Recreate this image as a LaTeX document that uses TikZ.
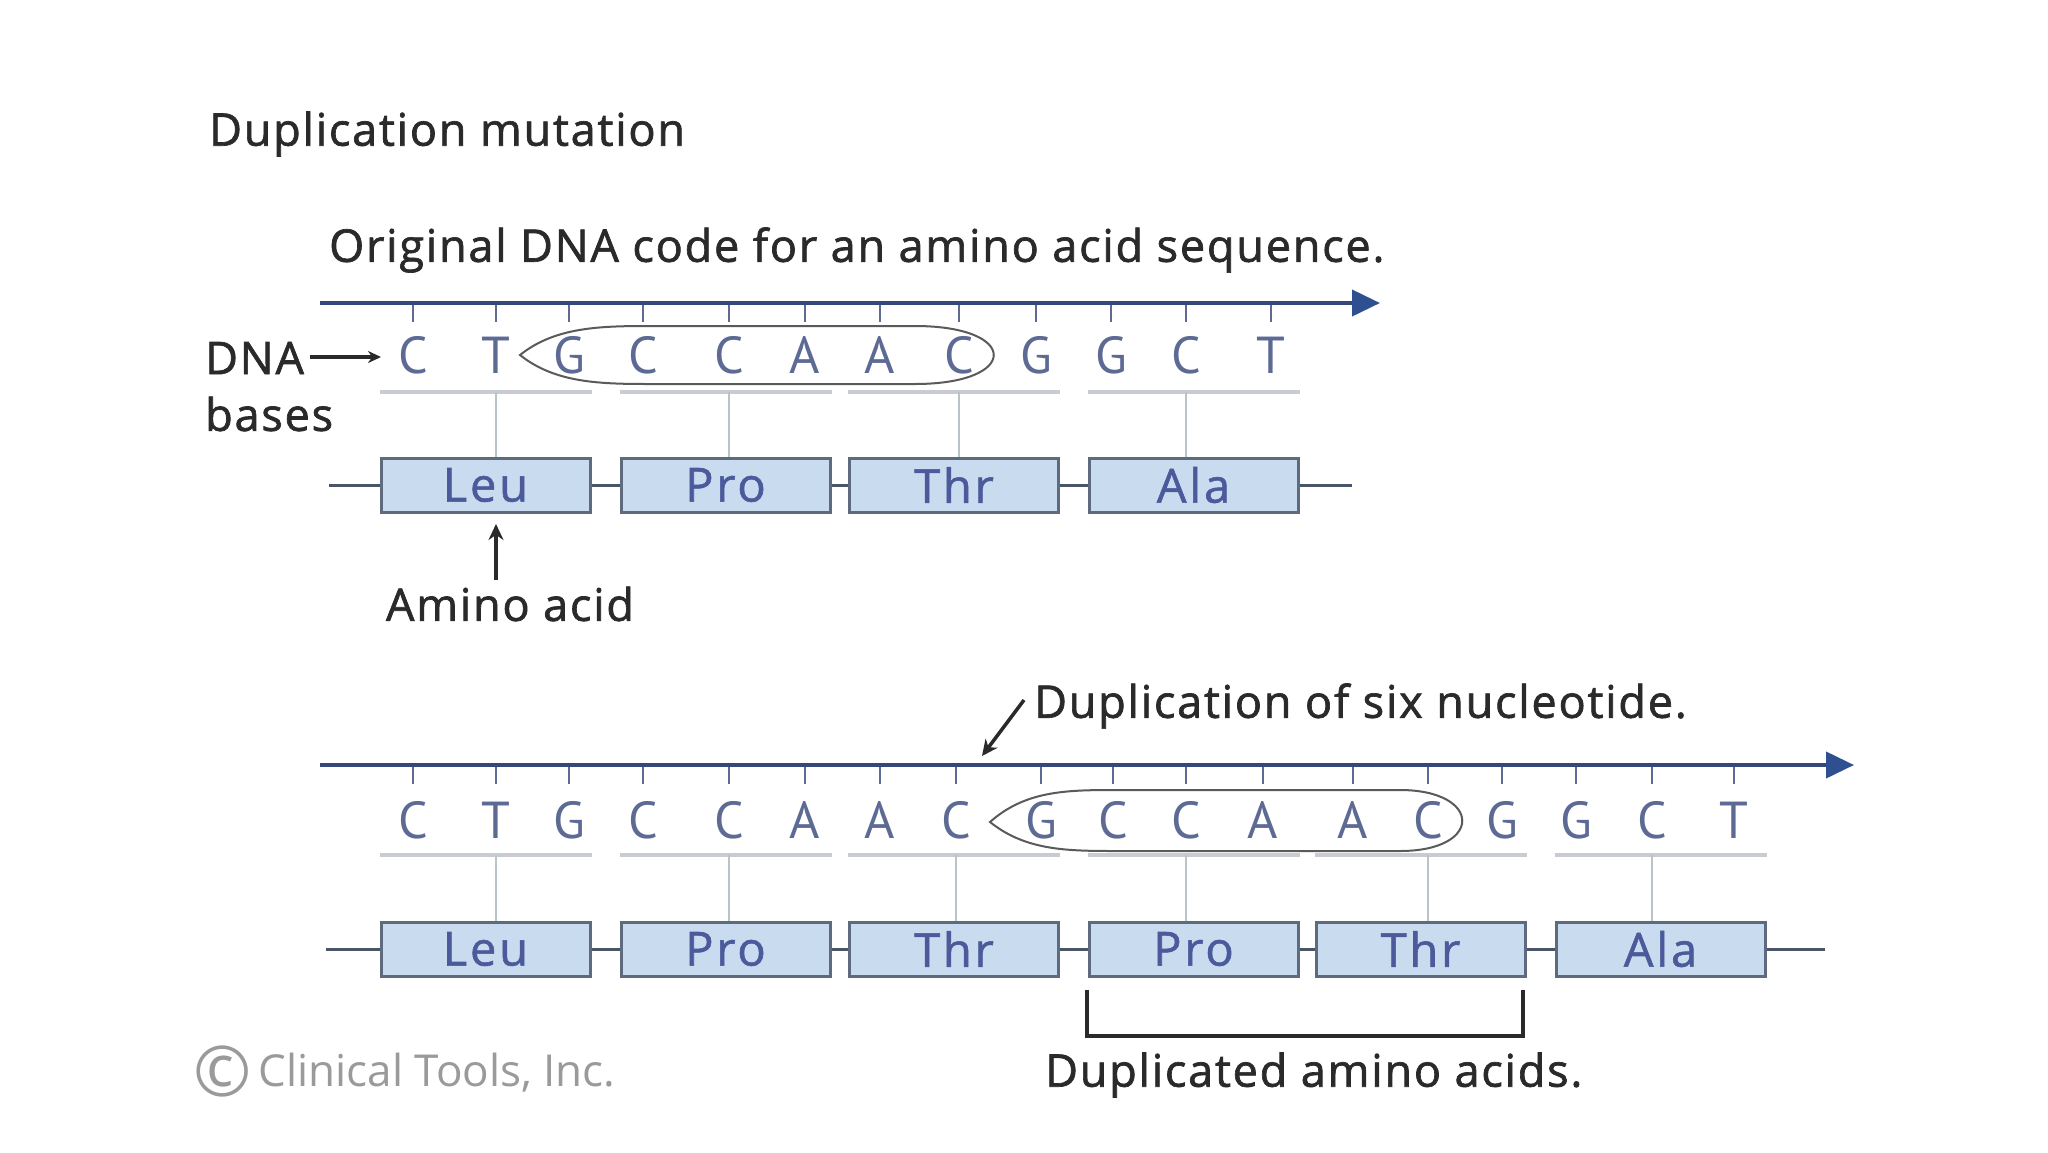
\documentclass[tikz,border=0pt]{standalone}
\usepackage{fontspec}
\setmainfont{Open Sans}
\newfontfamily\lblfont[FakeBold=1.5,LetterSpace=4]{Open Sans}
\newfontfamily\boxfont[FakeBold=1.2,LetterSpace=6]{Open Sans}
\newfontfamily\basefont{PT Sans}
\usetikzlibrary{arrows.meta}
\definecolor{axiscol}{HTML}{34497A}
\definecolor{tipcol}{HTML}{2F5090}
\definecolor{basecol}{HTML}{5D6B94}
\definecolor{boxfill}{HTML}{C9DCEF}
\definecolor{boxline}{HTML}{5E6B7E}
\definecolor{boxtext}{HTML}{4A5A9A}
\definecolor{ulcol}{HTML}{C8CBD0}
\definecolor{vlcol}{HTML}{B8C4CC}
\definecolor{chaincol}{HTML}{4A5566}
\definecolor{txtcol}{HTML}{2A2A2A}
\definecolor{copycol}{HTML}{9A9A9A}
\definecolor{lassocol}{HTML}{5A5A5A}
\begin{document}
\begin{tikzpicture}[x=1pt,y=-1pt,
  lbl/.style={text=txtcol,inner sep=0pt,font=\lblfont\fontsize{45}{50}\selectfont},
  basech/.style={text=basecol,inner sep=0pt,font=\basefont\fontsize{52}{60}\selectfont},
  aabox/.style={draw=boxline,fill=boxfill,line width=3pt,minimum width=209pt,minimum height=54pt,inner sep=0pt,text=boxtext,font=\boxfont\fontsize{47}{52}\selectfont},
  axisline/.style={draw=axiscol,line width=4pt,-{Triangle[length=28pt,width=26pt,color=tipcol]}},
  tickmark/.style={draw=basecol,line width=2pt},
  uline/.style={draw=ulcol,line width=4pt},
  vline/.style={draw=vlcol,line width=2pt},
  chainline/.style={draw=chaincol,line width=3pt},
  lasso/.style={draw=lassocol,line width=2pt},
  blackarrow/.style={draw=txtcol,line width=3.5pt,-{Stealth[length=16pt,width=15pt]}}
]
\useasboundingbox[fill=white] (0,0) rectangle (2048,1152);

% titles
\node[lbl,anchor=west] (title) at (209,134) {Duplication mutation};
\node[lbl,anchor=west] (orig) at (329,250) {Original DNA code for an amino acid sequence.};

% ---------- top row ----------
\coordinate (tax0) at (320,303);
\coordinate (tax1) at (1380,303);
\coordinate (tax) at (0,303);
\coordinate (tu) at (0,392);
\foreach \x/\l [count=\i] in {413/C,496/T,569/G,643/C,729/C,805/A,880/A,959/C,1036/G,1111/G,1186/C,1271/T}{
  \node[basech] (t\i) at (\x,355) {\l};
  \draw[tickmark] (t\i |- tax) -- ++(0,19);
}
\draw[axisline] (tax0) -- (tax1);

% lasso top
\draw[lasso] (520,355) .. controls (555,327) and (600,326) .. (650,326) -- (915,326)
  .. controls (1020,326) and (1020,384) .. (915,384) -- (650,384)
  .. controls (600,384) and (555,383) .. (520,355) -- cycle;

\node[aabox] (tL) at (485.5,485) {Leu};
\node[aabox] (tP) at (725.5,485) {Pro};
\node[aabox] (tT) at (954,485) {Thr};
\node[aabox] (tA) at (1193.5,485) {Ala};
\coordinate (tc0) at (329,485);
\coordinate (tc1) at (1352,485);
\draw[chainline] (tc0) -- (tL.west) (tL.east) -- (tP.west) (tP.east) -- (tT.west) (tT.east) -- (tA.west) (tA.east) -- (tc1);
\foreach \b in {tL,tP,tT,tA}{
  \draw[uline] (\b.west |- tu) -- (\b.east |- tu);
}
\draw[vline] (t2 |- tu) -- (t2 |- tL.north);
\draw[vline] (t5 |- tu) -- (t5 |- tP.north);
\draw[vline] (t8 |- tu) -- (t8 |- tT.north);
\draw[vline] (t11 |- tu) -- (t11 |- tA.north);

% DNA bases label
\node[lbl,anchor=west] (dna) at (205,358) {DNA};
\node[lbl,anchor=west] (bases) at (205,414) {bases};
\coordinate (dnatip) at (381,357);
\draw[draw=txtcol,line width=3.5pt,-{Stealth[length=13pt,width=12pt]}] ([xshift=6pt]dna.east |- dnatip) -- (dnatip);

% amino acid label
\node[lbl] (aa) at (510,604) {Amino acid};
\coordinate (aatip) at (496,524);
\draw[blackarrow] (aatip |- aa.north) ++(0,-6) -- (aatip);

% ---------- bottom row ----------
\node[lbl,anchor=west] (dup) at (1034,706) {Duplication of six nucleotide.};
\coordinate (duptip) at (982,756);
\draw[blackarrow] ([xshift=-10pt,yshift=6pt]dup.west) -- (duptip);

\coordinate (bax0) at (320,765);
\coordinate (bax1) at (1854,765);
\coordinate (bax) at (0,765);
\coordinate (bu) at (0,855);
\foreach \x/\l [count=\i] in {413/C,496/T,569/G,643/C,729/C,805/A,880/A,956/C,1041/G,1113/C,1186/C,1263/A,1353/A,1428/C,1502/G,1576/G,1652/C,1734/T}{
  \node[basech] (b\i) at (\x,820) {\l};
  \draw[tickmark] (b\i |- bax) -- ++(0,19);
}
\draw[axisline] (bax0) -- (bax1);

% lasso bottom
\draw[lasso] (990,822) .. controls (1025,791) and (1065,790) .. (1115,790) -- (1400,790)
  .. controls (1482,790) and (1484,851) .. (1400,851) -- (1115,851)
  .. controls (1065,851) and (1025,850) .. (990,822) -- cycle;

\node[aabox] (bL) at (485.5,949) {Leu};
\node[aabox] (bP) at (725.5,949) {Pro};
\node[aabox] (bT) at (954,949) {Thr};
\node[aabox] (bP2) at (1193.5,949) {Pro};
\node[aabox] (bT2) at (1420.5,949) {Thr};
\node[aabox] (bA) at (1660.5,949) {Ala};
\coordinate (bc0) at (326,949);
\coordinate (bc1) at (1825,949);
\draw[chainline] (bc0) -- (bL.west) (bL.east) -- (bP.west) (bP.east) -- (bT.west) (bT.east) -- (bP2.west) (bP2.east) -- (bT2.west) (bT2.east) -- (bA.west) (bA.east) -- (bc1);
\foreach \b in {bL,bP,bT,bP2,bT2,bA}{
  \draw[uline] (\b.west |- bu) -- (\b.east |- bu);
}
\draw[vline] (b2 |- bu) -- (b2 |- bL.north);
\draw[vline] (b5 |- bu) -- (b5 |- bP.north);
\draw[vline] (b8 |- bu) -- (b8 |- bT.north);
\draw[vline] (b11 |- bu) -- (b11 |- bP2.north);
\draw[vline] (b14 |- bu) -- (b14 |- bT2.north);
\draw[vline] (b17 |- bu) -- (b17 |- bA.north);

% bracket
\coordinate (br0) at (1087,990);
\coordinate (br1) at (1087,1036);
\coordinate (br2) at (1523,1036);
\coordinate (br3) at (1523,990);
\draw[draw=txtcol,line width=3.5pt] (br0) -- (br1) -- (br2) -- (br3);
\node[lbl,anchor=west] (dupaa) at (1045,1075) {Duplicated amino acids.};

% copyright
\node[anchor=west,inner sep=0pt,text=copycol,font=\fontsize{44}{50}\selectfont] (copy) at (193,1071) {\raisebox{-10pt}{\fontsize{70}{72}\selectfont ©}\,Clinical Tools, Inc.};
\end{tikzpicture}
\end{document}
